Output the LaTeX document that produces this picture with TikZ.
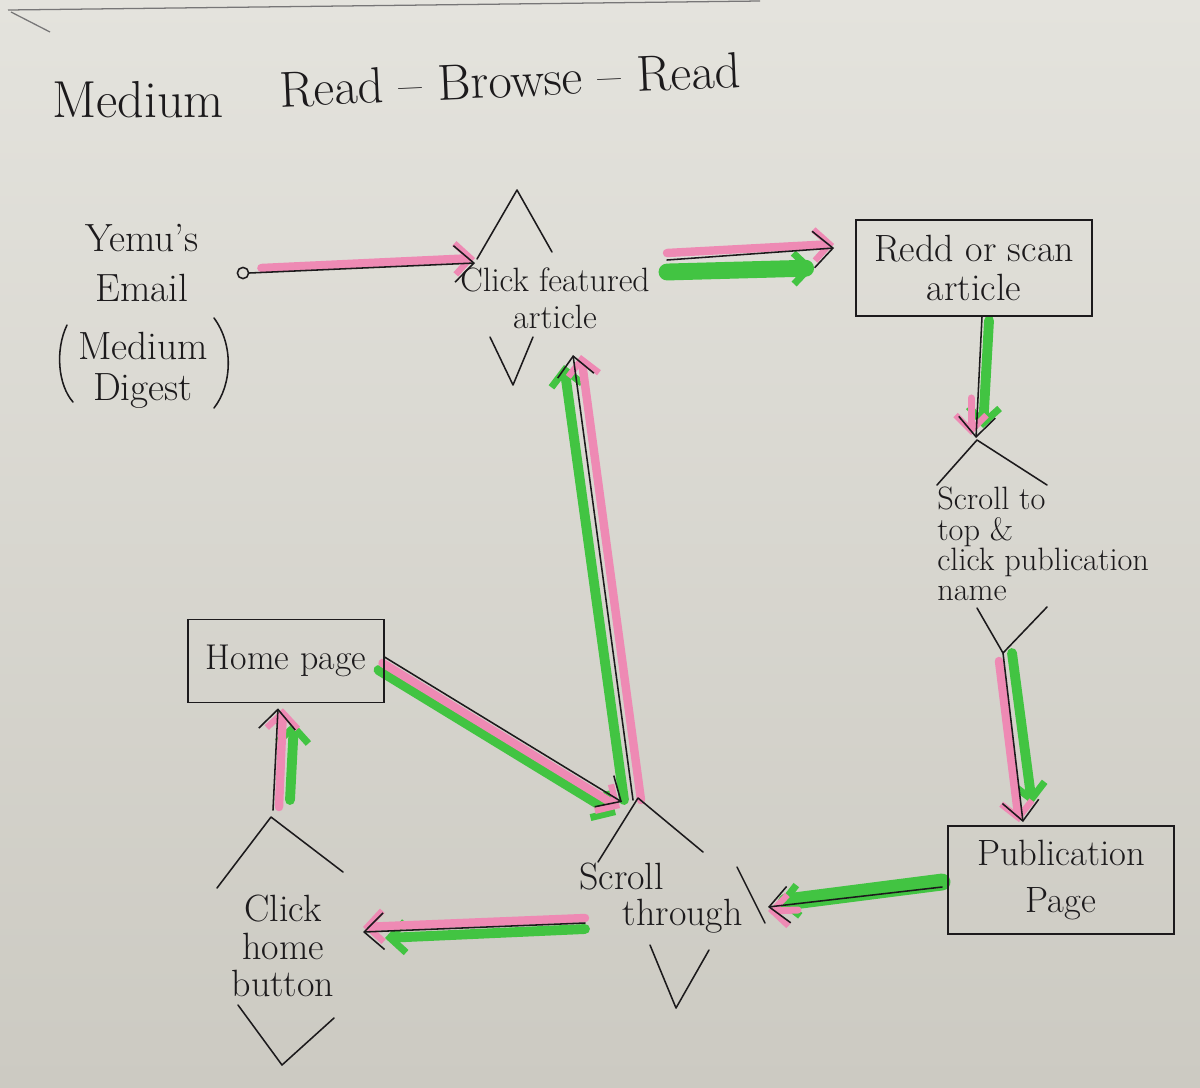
\documentclass[tikz,border=0pt]{standalone}
\usetikzlibrary{arrows.meta,calc}
\pgfdeclarelayer{paper}
\pgfdeclarelayer{hl}
\pgfsetlayers{paper,hl,main}
\definecolor{paperA}{RGB}{228,227,221}
\definecolor{paperB}{RGB}{204,202,194}
\definecolor{ink}{RGB}{28,26,28}
\definecolor{hlpink}{RGB}{238,138,180}
\definecolor{hlgreen}{RGB}{66,196,66}
\begin{document}
\begin{tikzpicture}[x=0.025cm,y=-0.025cm,
  pen/.style={draw=ink,line width=1.1pt,line cap=round,line join=round},
  arr/.style={pen,-{Straight Barb[length=14pt,width=26pt,line width=1.1pt]}},
  pinkhl/.style={draw=hlpink,line width=#1,line cap=round,-{Straight Barb[length=11pt,width=22pt,line width=4.5pt]}},
  pinkhl/.default=6pt,
  greenhl/.style={draw=hlgreen,line width=#1,line cap=round,-{Straight Barb[length=11pt,width=22pt,line width=5pt]}},
  greenhl/.default=7pt,
  lbl/.style={text=ink,align=center,inner sep=0pt},
  box/.style={draw=ink,line width=1.1pt,rectangle,inner sep=0pt,text=ink,align=center}]
\useasboundingbox (0,0) rectangle (1200,1087);
\begin{pgfonlayer}{paper}
  \shade[top color=paperA,bottom color=paperB] (0,0) rectangle (1200,1087);
  \draw[ink!60,line width=0.9pt] (8,10) -- (760,1);
  \draw[ink!60,line width=0.9pt] (11,12) -- (50,32);
\end{pgfonlayer}

% title
\node[lbl,font=\fontsize{37}{40}\selectfont] (ttl1) at (138,100) {Medium};
\node[lbl,font=\fontsize{36}{40}\selectfont,rotate=2.5] (ttl2) at (510,80) {Read -- Browse -- Read};

% source
\node[lbl,font=\fontsize{28}{35}\selectfont] (yemu) at (142,263) {Yemu's\\Email};
\node[lbl,font=\fontsize{28}{29}\selectfont] (digest) at (143,370) {Medium\\Digest};
\draw[pen] (67,325) .. controls (55,350) and (58,385) .. (73,402);
\draw[pen] (214,318) .. controls (234,345) and (232,385) .. (214,408);
\node[pen,circle,inner sep=0pt,minimum width=8pt,minimum height=8pt] (start) at (243,273) {};

% nodes
\node[lbl,font=\fontsize{24}{26}\selectfont] (cfa) at (555,298) {Click featured\\article};
\node[box,minimum width=168pt,minimum height=68pt,font=\fontsize{27}{28}\selectfont] (redd) at (974,268) {Redd or scan\\article};
\node[lbl,align=left,anchor=west,font=\fontsize{23}{21.5}\selectfont] (stp) at (937,544) {Scroll to\\top \&\\click publication\\name};
\node[box,minimum width=161pt,minimum height=77pt,font=\fontsize{26}{33}\selectfont] (pub) at (1061,880) {Publication\\Page};
\node[lbl,align=left,font=\fontsize{27}{26}\selectfont] (st) at (661,898) {Scroll\\\hspace*{31pt}through};
\node[lbl,font=\fontsize{27}{26.5}\selectfont] (chb) at (283,946) {Click\\home\\button};
\node[box,minimum width=139pt,minimum height=59pt,font=\fontsize{25.5}{28}\selectfont] (home) at (286,661) {Home page};

% action marks
\draw[pen] (477,259) -- (517,190) -- (552,252);
\draw[pen] (490,337) -- (513,385) -- (533,337);
\draw[pen] (937,485) -- (977,440) -- (1047,485);
\draw[pen] (977,608) -- (1003,653) -- (1047,607);
\draw[pen] (598,862) -- (638,798) -- (703,852);
\draw[pen] (650,945) -- (676,1008) -- (709,950);
\draw[pen] (737,867) -- (765,923);
\draw[pen] (217,888) -- (271,817) -- (343,872);
\draw[pen] (238,1005) -- (282,1065) -- (334,1018);

% connector end points
\coordinate (cfaIn) at (475,263);
\coordinate (cfaOut) at (667,260);
\coordinate (cfaBot) at (573,355);
\coordinate (reddIn) at ($(redd.west)+(-21,-20)$);
\coordinate (reddOut) at ($(redd.south)+(8,0)$);
\coordinate (stpTop) at (976,438);
\coordinate (stpBot) at (1003,653);
\coordinate (pubIn) at ($(pub.north)+(-38,-3)$);
\coordinate (pubOut) at ($(pub.west)+(-5,7)$);
\coordinate (stRight) at (768,907);
\coordinate (stLeft) at (585,923);
\coordinate (stTopA) at (622,802);
\coordinate (stTopB) at (633,800);
\coordinate (chbRight) at (363,932);
\coordinate (chbTop) at (273,810);
\coordinate (homeIn) at ($(home.south)+(-8,5)$);
\coordinate (homeOut) at ($(home.east)+(0,-4)$);

% highlighter strokes
\begin{pgfonlayer}{hl}
  \draw[pinkhl] ($(start.east)+(12,-5)$) -- ($(cfaIn)+(0,-5)$);
  \draw[greenhl=12pt] ($(cfaOut)+(0,12)$) -- ($(reddIn)+(-20,20)$);
  \draw[pinkhl] ($(cfaOut)+(0,-7)$) -- ($(reddIn)+(0,-4)$);
  \draw[greenhl] ($(reddOut)+(7,4)$) -- ($(stpTop)+(7,-10)$);
  \draw[pinkhl=5pt] ($(stpTop)+(-5,-40)$) -- ($(stpTop)+(-5,-3)$);
  \draw[greenhl] ($(stpBot)+(9,0)$) -- ($(pubIn)+(9,-18)$);
  \draw[pinkhl] ($(stpBot)+(-4,8)$) -- ($(pubIn)+(-4,0)$);
  \draw[greenhl=12pt] ($(pubOut)+(0,-5)$) -- ($(stRight)+(10,-4)$);
  \draw[pinkhl=5pt] ($(stRight)+(30,3)$) -- ($(stRight)+(0,4)$);
  \draw[greenhl] ($(stLeft)+(0,6)$) -- ($(chbRight)+(22,6)$);
  \draw[pinkhl] ($(stLeft)+(0,-5)$) -- ($(chbRight)+(0,-5)$);
  \draw[greenhl] ($(chbTop)+(17,-10)$) -- ($(homeIn)+(16,14)$);
  \draw[pinkhl] ($(chbTop)+(6,-3)$) -- ($(homeIn)+(5,0)$);
  \draw[greenhl] ($(homeOut)+(-6,13)$) -- ($(stTopA)+(-6,13)$);
  \draw[pinkhl] ($(homeOut)+(-2,6)$) -- ($(stTopA)+(-2,6)$);
  \draw[greenhl] ($(stTopB)+(-9,0)$) -- ($(cfaBot)+(-9,10)$);
  \draw[pinkhl] ($(stTopB)+(8,0)$) -- ($(cfaBot)+(8,0)$);
\end{pgfonlayer}

% pen connectors
\draw[arr] (start.east) -- (cfaIn);
\draw[arr] (cfaOut) -- (reddIn);
\draw[arr] (reddOut) -- (stpTop);
\draw[arr] (stpBot) -- (pubIn);
\draw[arr] (pubOut) -- (stRight);
\draw[arr] (stLeft) -- (chbRight);
\draw[arr] (chbTop) -- (homeIn);
\draw[arr] (homeOut) -- (stTopA);
\draw[arr] (stTopB) -- (cfaBot);
\end{tikzpicture}
\end{document}
